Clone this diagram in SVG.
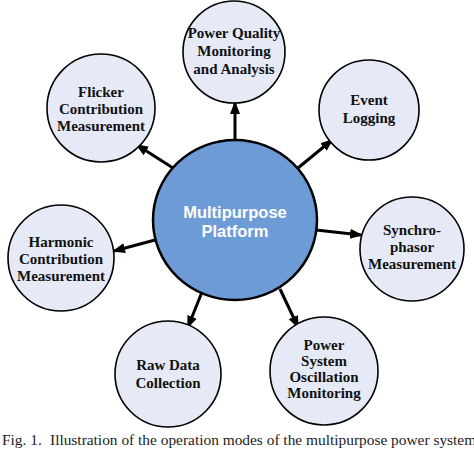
<svg xmlns="http://www.w3.org/2000/svg" width="474" height="450" viewBox="0 0 474 450">
<defs>
<marker id="ah" markerUnits="userSpaceOnUse" markerWidth="14" markerHeight="12" refX="11" refY="5" orient="auto" viewBox="0 0 14 10">
<path d="M0,0 L13,5 L0,10 Z" fill="#000"/>
</marker>
<style>
.sat{fill:#e6eaf6;stroke:#000;stroke-width:1.6}
.hub{fill:#6d9bd6;stroke:#000;stroke-width:2.5}
.t{font-family:"Liberation Serif","Times New Roman",serif;font-weight:bold;font-size:15px;fill:#111;text-anchor:middle}
.ht{font-family:"Liberation Sans",Arial,sans-serif;font-weight:bold;font-size:16.5px;fill:#fff;text-anchor:middle}
.cap{font-family:"Liberation Serif","Times New Roman",serif;font-size:15.4px;fill:#222}
.c{stroke:#000;stroke-width:3;fill:none;marker-end:url(#ah)}
</style>
</defs>
<rect width="474" height="450" fill="#fff"/>
<g id="connectors">
<line class="c" x1="235" y1="141" x2="235" y2="103"/>
<line class="c" x1="298" y1="168" x2="332" y2="140"/>
<line class="c" x1="173" y1="168" x2="137" y2="145"/>
<line class="c" x1="316" y1="230" x2="361" y2="235"/>
<line class="c" x1="155" y1="240" x2="114" y2="251"/>
<line class="c" x1="202" y1="292" x2="188" y2="327"/>
<line class="c" x1="280" y1="289" x2="298" y2="327"/>
</g>
<g id="hub">
<ellipse class="hub" cx="235" cy="220" rx="82" ry="80"/>
<text class="ht" x="235" y="218">Multipurpose</text>
<text class="ht" x="235" y="237">Platform</text>
</g>
<g id="power-quality">
<circle class="sat" cx="234" cy="52" r="51"/>
<text class="t" x="234" y="38">Power Quality</text>
<text class="t" x="234" y="56">Monitoring</text>
<text class="t" x="234" y="74">and Analysis</text>
</g>
<g id="event-logging">
<circle class="sat" cx="369" cy="110" r="50"/>
<text class="t" x="369" y="105">Event</text>
<text class="t" x="369" y="123">Logging</text>
</g>
<g id="flicker">
<circle class="sat" cx="101" cy="108" r="54"/>
<text class="t" x="101" y="97">Flicker</text>
<text class="t" x="101" y="114">Contribution</text>
<text class="t" x="101" y="131">Measurement</text>
</g>
<g id="synchrophasor">
<circle class="sat" cx="412" cy="249" r="52"/>
<text class="t" x="412" y="235">Synchro-</text>
<text class="t" x="412" y="252">phasor</text>
<text class="t" x="412" y="269">Measurement</text>
</g>
<g id="harmonic">
<circle class="sat" cx="61" cy="258" r="53"/>
<text class="t" x="61" y="247">Harmonic</text>
<text class="t" x="61" y="264">Contribution</text>
<text class="t" x="61" y="281">Measurement</text>
</g>
<g id="raw-data">
<circle class="sat" cx="168" cy="374" r="53"/>
<text class="t" x="168" y="370">Raw Data</text>
<text class="t" x="168" y="388">Collection</text>
</g>
<g id="power-system">
<circle class="sat" cx="324" cy="371" r="54"/>
<text class="t" x="324" y="350">Power</text>
<text class="t" x="324" y="366">System</text>
<text class="t" x="324" y="382">Oscillation</text>
<text class="t" x="324" y="398">Monitoring</text>
</g>
<text class="cap" y="445"><tspan x="2">Fig. 1.</tspan><tspan x="50">Illustration of the operation modes of the multipurpose power system.</tspan></text>
</svg>
